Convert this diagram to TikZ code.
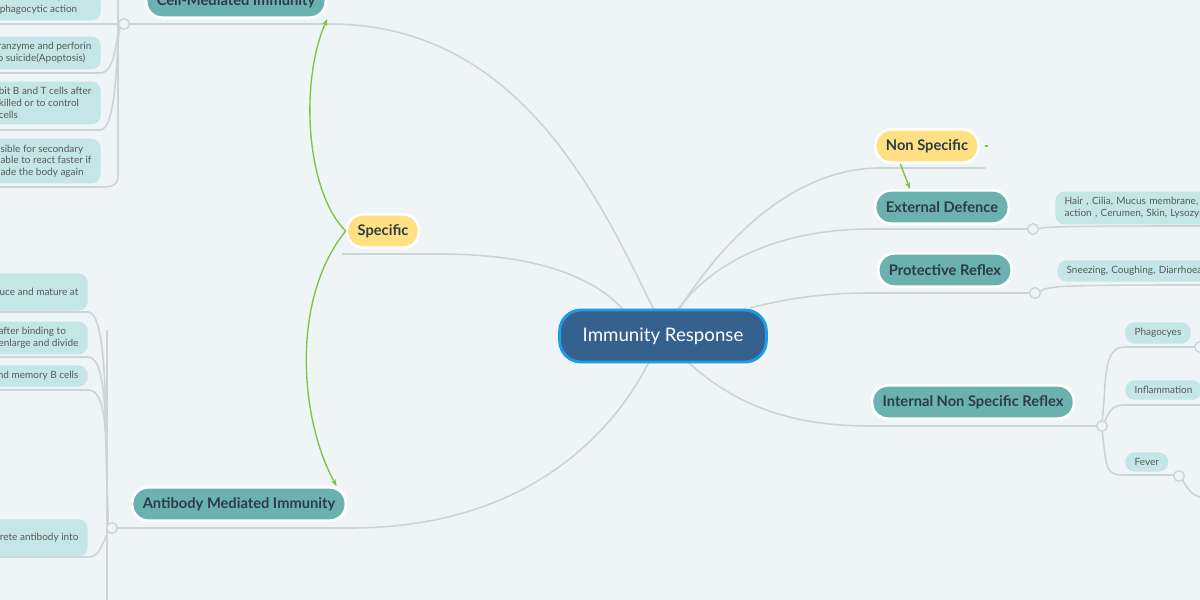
\documentclass[tikz,border=0pt]{standalone}
\usepackage{fontspec}
\setmainfont{Lato}
\usetikzlibrary{arrows.meta}
\definecolor{bg}{HTML}{EFF4F7}
\definecolor{teal}{HTML}{6AB1B0}
\definecolor{leaf}{HTML}{C5E6E6}
\definecolor{dark}{HTML}{2E3B45}
\definecolor{ln}{HTML}{CDD3D7}
\definecolor{yel}{HTML}{FFE082}
\definecolor{grn}{HTML}{7DC242}
\definecolor{ctr}{HTML}{35618F}
\definecolor{ctrb}{HTML}{1E9BE8}
\tikzset{
 main/.style={rounded corners=12pt,fill=teal,draw=white,line width=2pt,text=dark,font=\bfseries\fontsize{11}{13}\selectfont,inner xsep=8pt,minimum height=25pt},
 yl/.style={main,fill=yel},
 lf/.style={rounded corners=7pt,fill=leaf,text=black!65,font=\fontsize{7.5}{9.8}\selectfont,align=left,inner xsep=7pt,inner ysep=4.5pt},
 cn/.style={ln,line width=1.2pt},
 dot/.style={circle,draw=ln,line width=1pt,fill=bg,inner sep=0pt,minimum size=8pt},
 ga/.style={grn,line width=1pt,-{Stealth[length=5pt]}}
}
\begin{document}
\begin{tikzpicture}[x=0.75pt,y=-0.75pt]
\fill[bg] (0,0) rectangle (1200,600);
\clip (0,0) rectangle (1200,600);
% main curves
\draw[cn] (125,24) -- (330,24) .. controls (520,24) and (600,200) .. (655,312);
\draw[cn] (342,254) -- (440,254) .. controls (560,254) and (610,290) .. (630,318);
\draw[cn] (110,528) -- (350,528) .. controls (520,528) and (610,440) .. (650,360);
\draw[cn] (680,308) .. controls (730,230) and (800,168) .. (880,168) -- (985,168);
\draw[cn] (676,312) .. controls (720,250) and (800,229) .. (870,229) -- (1029,229);
\draw[cn] (750,308) .. controls (800,295) and (840,293) .. (870,293) -- (1031,293);
\draw[cn] (688,362) .. controls (740,410) and (800,426) .. (870,426) -- (1098,426);
% left top leaf connectors
\draw[cn] (118,0) -- (118,175) .. controls (118,186) and (112,187) .. (100,187) -- (0,187);
\draw[cn] (0,24) -- (120,24);
\draw[cn] (120,26) .. controls (116,35) and (116,73) .. (100,73) -- (0,73);
\draw[cn] (120,28) .. controls (116,40) and (118,130) .. (100,130) -- (0,130);
% left bottom leaf connectors
\draw[cn] (107,600) -- (107,330);
\draw[cn] (108,524) .. controls (105,450) and (110,312) .. (88,312) -- (0,312);
\draw[cn] (108,524) .. controls (105,450) and (110,357) .. (88,357) -- (0,357);
\draw[cn] (108,524) .. controls (105,450) and (110,390) .. (88,390) -- (0,390);
\draw[cn] (108,532) .. controls (100,550) and (98,557) .. (88,557) -- (0,557);
% right leaf connectors
\draw[cn] (1037,229) .. controls (1045,227) and (1050,226) .. (1200,226);
\draw[cn] (1039,292) .. controls (1048,286) and (1052,285) .. (1200,285);
\draw[cn] (1102,422) .. controls (1107,380) and (1102,347) .. (1125,347) -- (1196,347);
\draw[cn] (1104,423) .. controls (1110,410) and (1112,405) .. (1125,405) -- (1200,405);
\draw[cn] (1102,430) .. controls (1107,470) and (1105,475) .. (1125,475) -- (1175,475);
\draw[cn] (1182,479) .. controls (1188,490) and (1192,495) .. (1200,497);
% dots
\node[dot] (d1) at (124,24) {};
\node[dot] (d2) at (112,528) {};
\node[dot] (d3) at (1033,229) {};
\node[dot] (d4) at (1035,293) {};
\node[dot] (d5) at (1102,426) {};
\node[dot] (d6) at (1200,347) {};
\node[dot] (d7) at (1179,476) {};
% centre
\node[rounded corners=16pt,fill=ctr,draw=ctrb,line width=2.2pt,text=white,font=\fontsize{14}{16}\selectfont,minimum width=155pt,minimum height=39pt] (c) at (663,336) {Immunity Response};
% main nodes
\node[main] (cmi) at (236,1) {Cell-Mediated Immunity};
\node[yl] (sp) at (383,231) {Specific};
\node[main] (ami) at (239,504) {Antibody Mediated Immunity};
\node[yl] (ns) at (927,146) {Non Specific};
\node[main] (ed) at (942,207) {External Defence};
\node[main] (pr) at (945,270) {Protective Reflex};
\node[main] (in) at (973,402) {Internal Non Specific Reflex};
% left leaves
\node[lf,anchor=east] at (101,4) {e of infection, attract\\[-1pt]phagocytic action};
\node[lf,anchor=east] at (101,53) {ranzyme and perforin\\[-1pt]o suicide(Apoptosis)};
\node[lf,anchor=east] at (101,103) {bit B and T cells after\\[-1pt]killed or to control\\[-1pt]cells};
\node[lf,anchor=east] at (101,161) {sible for secondary\\[-1pt]able to react faster if\\[-1pt]ade the body again};
\node[lf,anchor=east,minimum height=28pt] at (88,292) {uce and mature at};
\node[lf,anchor=east] at (88,338) {after binding to\\[-1pt]enlarge and divide};
\node[lf,anchor=east] at (88,376) {nd memory B cells};
\node[lf,anchor=east,minimum height=28pt] at (88,538) {crete antibody into};
% right leaves
\node[lf,anchor=west,text width=150pt] at (1055,208) {Hair , Cilia, Mucus membrane, Peristaltic\\[-1pt]action , Cerumen, Skin, Lysozyme};
\node[lf,anchor=west,text width=150pt] at (1057,271) {Sneezing, Coughing, Diarrhoea, Vomiting};
\node[lf,anchor=west] at (1125,333) {Phagocyes};
\node[lf,anchor=west] at (1125,390) {Inflammation};
\node[lf,anchor=west] at (1125,462) {Fever};
% green arrows
\draw[ga] (sp.west) .. controls (305,190) and (300,80) .. (cmi.south east);
\draw[ga] (sp.west) .. controls (290,300) and (300,420) .. ([xshift=-8pt]ami.north east);
\draw[grn,line width=1pt] ([xshift=4pt]ns.east) -- ++(3,0);
\draw[ga] ([xshift=-20pt]ns.south) -- ([xshift=-24pt]ed.north);
\end{tikzpicture}
\end{document}
